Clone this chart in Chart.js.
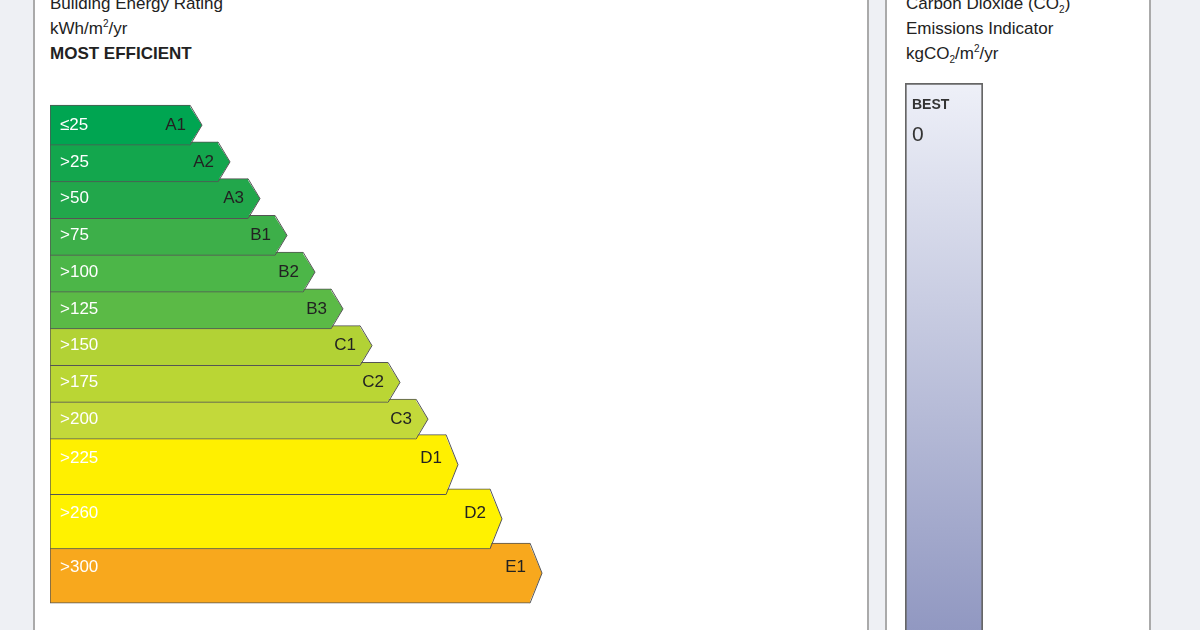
<!DOCTYPE html>
<html><head><meta charset="utf-8">
<script src="https://cdn.jsdelivr.net/npm/chart.js@4"></script>
<style>
body{margin:0;width:1200px;height:630px;overflow:hidden;background:#eef0f4;font-family:"Liberation Sans",Arial,sans-serif;position:relative}
.panel{position:absolute;background:#fff;border-left:2px solid #aaa;border-right:2px solid #aaa}
.t{position:absolute;font-size:17px;color:#222;line-height:25px}
.t sup,.t sub{font-size:10px;line-height:0;position:relative;vertical-align:baseline}
.t sup{top:-7px}.t sub{top:4px}
canvas{position:absolute}
</style></head><body>
<div class="panel" style="left:33px;top:0;width:832px;height:630px"></div>
<div class="panel" style="left:885px;top:0;width:262px;height:630px"></div>
<div class="t" style="left:50px;top:-9px">Building Energy Rating<br>kWh/m<sup>2</sup>/yr<br><b>MOST EFFICIENT</b></div>
<div class="t" style="left:906px;top:-9px">Carbon Dioxide (CO<sub>2</sub>)<br>Emissions Indicator<br>kgCO<sub>2</sub>/m<sup>2</sup>/yr</div>
<div style="position:absolute;left:50px;top:0;width:540px;height:630px"><canvas id="ber"></canvas></div>
<div style="position:absolute;left:905px;top:83px;width:78px;height:560px"><canvas id="co2"></canvas></div>
<div class="t" style="left:912px;top:92px;font-size:14px;font-weight:bold;color:#333">BEST</div>
<div class="t" style="left:912px;top:121px;font-size:21px;color:#333">0</div>
<script>
const grades = ['A1','A2','A3','B1','B2','B3','C1','C2','C3','D1','D2','E1']
const thresholds = ['≤25','>25','>50','>75','>100','>125','>150','>175','>200','>225','>260','>300']
const barLengths = [140,168,198,225,253,281,310,338,366,396,440,480]
const bandHeights = [40,40,40,40,40,40,40,40,40,60,60,60]
const colors = ['#00a551','#13a64d','#22a74b','#3daf49','#4cb648','#5bba46','#b2d235','#bad634','#c3d93a','#fff000','#fff200','#f8a81d']

// band centres in pixel units, 2px gap between bands
let bandTop = 78
const centres = bandHeights.map(h => { const c = bandTop + h / 2; bandTop += h + 2; return c })

const tips = {
    id: 'tips',
    afterDatasetsDraw(chart) {
        const ctx = chart.ctx
        chart.data.datasets.forEach((ds, i) => {
            const bar = chart.getDatasetMeta(i).data[0]
            const h = bar.height, x = bar.x, y = bar.y
            ctx.save()
            ctx.beginPath()
            ctx.moveTo(x - 1, y - h / 2)
            ctx.lineTo(x + 12, y)
            ctx.lineTo(x - 1, y + h / 2)
            ctx.closePath()
            ctx.fillStyle = colors[i]
            ctx.fill()
            ctx.strokeStyle = '#555'
            ctx.lineWidth = 1
            ctx.beginPath()
            ctx.moveTo(x, y - h / 2)
            ctx.lineTo(x + 12, y)
            ctx.lineTo(x, y + h / 2)
            ctx.stroke()
            ctx.font = '17px "Liberation Sans", Arial'
            ctx.textBaseline = 'middle'
            ctx.fillStyle = '#fff'
            ctx.textAlign = 'left'
            ctx.fillText(thresholds[i], bar.base + 10, y - (h > 45 ? 6 : 0))
            ctx.fillStyle = '#222'
            ctx.textAlign = 'right'
            ctx.fillText(grades[i], x - 4, y - (h > 45 ? 6 : 0))
            ctx.restore()
        })
    }
}

new Chart(document.getElementById('ber'), {
    type: 'bar',
    data: {
        datasets: grades.map((g, i) => ({
            label: g,
            data: [{ x: [0, barLengths[i]], y: centres[i] }],
            backgroundColor: colors[i],
            borderColor: '#555',
            borderWidth: { top: 1, bottom: 1, left: 1, right: 0 },
            borderSkipped: false,
            barThickness: bandHeights[i],
            grouped: false
        }))
    },
    options: {
        indexAxis: 'y',
        responsive: true,
        maintainAspectRatio: false,
        animation: false,
        layout: { padding: 0 },
        plugins: { legend: { display: false }, tooltip: { enabled: false } },
        scales: {
            x: { type: 'linear', display: false, min: 0, max: 540 },
            y: { type: 'linear', display: false, min: 0, max: 630, reverse: true }
        }
    },
    plugins: [tips]
})

const co2Value = [1]
new Chart(document.getElementById('co2'), {
    type: 'bar',
    data: {
        labels: ['CO2'],
        datasets: [{
            data: co2Value,
            backgroundColor: (c) => {
                const a = c.chart.chartArea
                if (!a) return '#ccd'
                const g = c.chart.ctx.createLinearGradient(0, a.top, 0, a.bottom)
                g.addColorStop(0, '#eef0f8')
                g.addColorStop(1, '#8f96c0')
                return g
            },
            borderColor: '#666',
            borderWidth: 2,
            borderSkipped: false,
            barPercentage: 1,
            categoryPercentage: 1
        }]
    },
    options: {
        responsive: true,
        maintainAspectRatio: false,
        animation: false,
        plugins: { legend: { display: false }, tooltip: { enabled: false } },
        scales: {
            x: { display: false },
            y: { display: false, min: 0, max: 1 }
        }
    }
})
</script>
</body></html>
